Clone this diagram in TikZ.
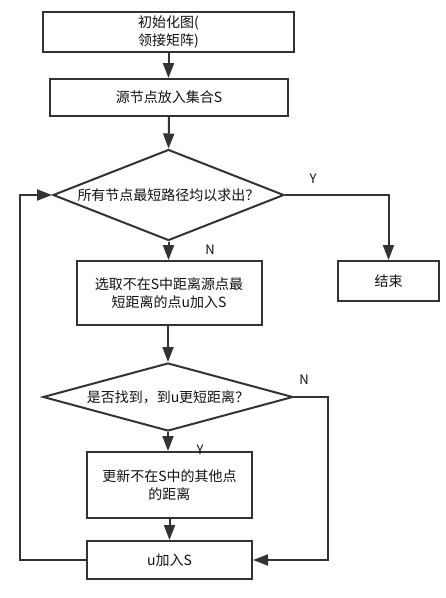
\documentclass[tikz,border=0pt]{standalone}
\usepackage{fontspec}
\setmainfont{Noto Sans CJK SC}
\usetikzlibrary{arrows.meta,shapes.geometric}
\definecolor{linec}{HTML}{333333}
\definecolor{textc}{HTML}{111111}
\begin{document}
\begin{tikzpicture}[x=1pt,y=-1pt,
  every node/.style={text=textc,font=\fontsize{14}{18}\selectfont},
  proc/.style={draw=linec,line width=2pt,rectangle,inner sep=0pt,align=center},
  decide/.style={draw=linec,line width=2pt,diamond,inner sep=0pt,align=center},
  conn/.style={draw=linec,line width=2pt,-{Triangle[length=15pt,width=11pt]}},
  lab/.style={inner sep=0pt,font=\fontsize{13}{15}\selectfont}]
\useasboundingbox (0,0) rectangle (446,598);
\node[proc,minimum width=251pt,minimum height=40pt] (b1) at (168.5,32) {初始化图(\\领接矩阵)};
\node[proc,minimum width=238pt,minimum height=37pt] (b2) at (169,97.5) {源节点放入集合S};
\node[decide,minimum width=231pt,minimum height=91pt,aspect=2.54] (d1) at (168.5,195) {所有节点最短路径均以求出？};
\node[proc,minimum width=101pt,minimum height=40pt] (e) at (388.5,281) {结束};
\node[proc,minimum width=185pt,minimum height=64pt] (b3) at (169,293) {选取不在S中距离源点最\\短距离的点u加入S};
\node[decide,minimum width=250pt,minimum height=68pt,aspect=3.68] (d2) at (168,397) {是否找到，到u更短距离？};
\node[proc,minimum width=165pt,minimum height=66pt] (b4) at (169.5,485) {更新不在S中的其他点\\的距离};
\node[proc,minimum width=165pt,minimum height=38pt] (b5) at (169.5,560) {u加入S};
\coordinate (r1) at (388.5,195);
\coordinate (r2a) at (328,397);
\coordinate (r2b) at (328,560);
\coordinate (l1) at (19.5,560);
\coordinate (l2) at (19.5,195);
\node[lab] (ly1) at (313,179) {Y};
\node[lab] (ln1) at (210,250) {N};
\node[lab] (ln2) at (304,380) {N};
\node[lab] (ly2) at (200,450) {Y};
\draw[conn] (b1.south) -- (b1.south |- b2.north);
\draw[conn] (b2.south) -- (d1.north);
\draw[conn] (d1.east) -- (r1) -- (e.north);
\draw[conn] (d1.south) -- (d1.south |- b3.north);
\draw[conn] (b3.south) -- (b3.south -| d2.north) -- (d2.north);
\draw[conn] (d2.south) -- (d2.south |- b4.north);
\draw[conn] (b4.south) -- (b5.north);
\draw[conn] (d2.east) -- (r2a) -- (r2b) -- (b5.east);
\draw[conn] (b5.west) -- (l1) -- (l2) -- (d1.west);
\end{tikzpicture}
\end{document}
